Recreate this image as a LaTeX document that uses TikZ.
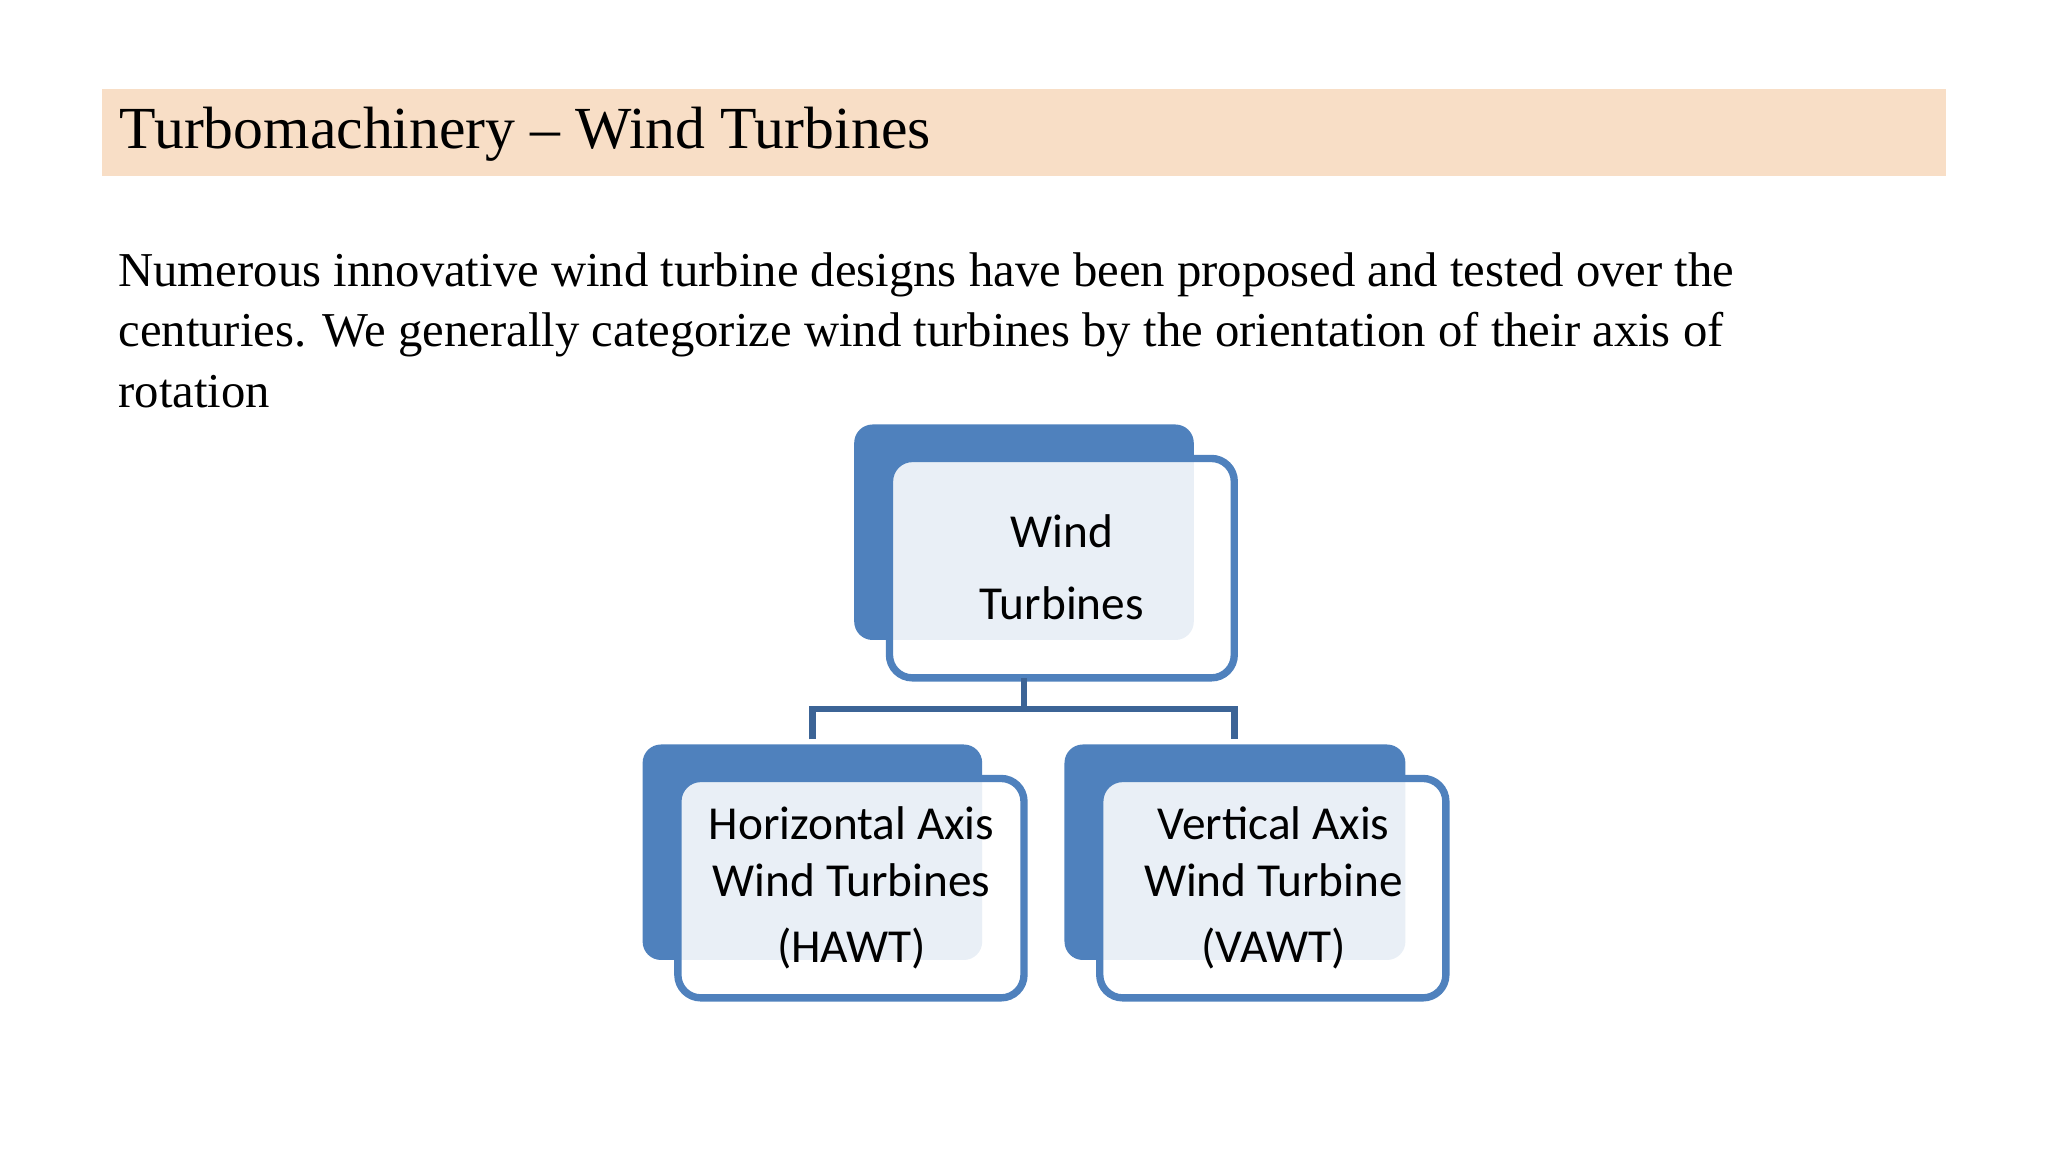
\documentclass[tikz,border=0pt]{standalone}
\usepackage{fontspec}
\setmainfont{Liberation Serif}
\newfontfamily\calibri{Carlito}
\usetikzlibrary{positioning}
\definecolor{bandpeach}{HTML}{F8DEC6}
\definecolor{boxblue}{HTML}{4F81BD}
\definecolor{linkblue}{HTML}{3C6496}
\begin{document}
\begin{tikzpicture}[
        x=0.01cm, y=-0.01cm,
        backbox/.style={fill=boxblue, rounded corners=4pt},
        frontbox/.style={draw=boxblue, line width=1.6pt, fill=white, fill opacity=0.88, text opacity=1, rounded corners=5pt},
        label/.style={font=\calibri\fontsize{10.3pt}{12.3pt}\selectfont, align=center, text=black},
        link/.style={draw=linkblue, line width=1.4pt}
    ]
        \useasboundingbox (0,0) rectangle (1568,882);

        % header band
        \fill[bandpeach] (78,68) rectangle (1490,135);
        \node[anchor=west, inner sep=0pt, font=\fontsize{13pt}{16pt}\selectfont] (title) at (91,103) {Turbomachinery -- Wind Turbines};

        \node[anchor=north west, inner sep=0pt, align=left, font=\fontsize{10.6pt}{13.1pt}\selectfont] (intro) at (90,193)
            {Numerous innovative wind turbine designs have been proposed and tested over the\\
             centuries. We generally categorize wind turbines by the orientation of their axis of\\
             rotation};

        % top box
        \fill[backbox] (654,325) rectangle (914,490);
        \draw[frontbox] (681,351) rectangle (945,519);
        \coordinate (top_s) at (784,519);
        \node[label] (wind) at (813,407) {Wind};
        \node[label] (turb) at (813,462) {Turbines};

        % left box
        \fill[backbox] (492,570) rectangle (752,735);
        \draw[frontbox] (519,596) rectangle (784,764);
        \coordinate (left_n) at (622,566);
        \node[label] (hawt) at (652,652) {Horizontal Axis\\Wind Turbines};
        \node[label] (hawt_abbr) at (652,726) {(HAWT)};

        % right box
        \fill[backbox] (815,570) rectangle (1076,735);
        \draw[frontbox] (842,596) rectangle (1107,764);
        \coordinate (right_n) at (945,566);
        \node[label] (vawt) at (975,652) {Vertical Axis\\Wind Turbine};
        \node[label] (vawt_abbr) at (975,726) {(VAWT)};

        % connectors
        \coordinate (split) at (784,543);
        \draw[link] (top_s) -- (split);
        \draw[link] (left_n) |- (split) -| (right_n);
    \end{tikzpicture}
\end{document}
